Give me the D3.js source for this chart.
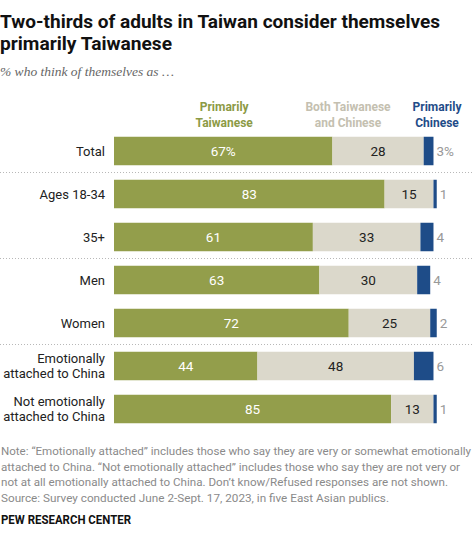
<!DOCTYPE html>
<html>
<head>
<meta charset="utf-8">
<script src="https://cdn.jsdelivr.net/npm/d3@7"></script>
<style>
  html, body { margin: 0; padding: 0; background: #fff; }
  svg { display: block; }
  text { font-family: Roboto, "Liberation Sans", sans-serif; }
</style>
</head>
<body>
<svg id="chart" width="474" height="538"></svg>
<script>
const categories = ["Total", "Ages 18-34", "35+", "Men", "Women", "Emotionally\nattached to China", "Not emotionally\nattached to China"];
const primarilyTaiwanese = [67, 83, 61, 63, 72, 44, 85];
const bothTaiwaneseChinese = [28, 15, 33, 30, 25, 48, 13];
const primarilyChinese = [3, 1, 4, 4, 2, 6, 1];
const seriesNames = ["Primarily\nTaiwanese", "Both Taiwanese\nand Chinese", "Primarily\nChinese"];
const separatorsAfter = ["Total", "35+", "Women"];

const colors = ["#939e4b", "#dbd8cb", "#1e4c88"];
const legendColors = ["#8c9a45", "#c4c0b0", "#1f4c88"];

const svg = d3.select("#chart");

// Title
const title = svg.append("g");
title.append("text").attr("x", 0).attr("y", 28)
  .attr("font-size", 18).attr("font-weight", 700).attr("fill", "#111")
  .attr("textLength", 440).attr("lengthAdjust", "spacingAndGlyphs")
  .text("Two-thirds of adults in Taiwan consider themselves");
title.append("text").attr("x", 0).attr("y", 50)
  .attr("font-size", 18).attr("font-weight", 700).attr("fill", "#111")
  .attr("textLength", 172).attr("lengthAdjust", "spacingAndGlyphs")
  .text("primarily Taiwanese");
svg.append("text").attr("x", 0).attr("y", 76)
  .attr("font-size", 13.5).attr("font-style", "italic").attr("fill", "#666")
  .style("font-family", "'Liberation Serif', 'DejaVu Serif', serif")
  .text("% who think of themselves as …");

const x = d3.scaleLinear().domain([0, 100]).range([114, 440]);
const y = d3.scalePoint().domain(categories).range([151, 409]);
const barH = 28.5;

const rows = categories.map((c, i) => {
  const vals = [primarilyTaiwanese[i], bothTaiwaneseChinese[i], primarilyChinese[i]];
  let cum = 0;
  const segs = vals.map((v, k) => { const s = {k, v, x0: cum, x1: cum + v}; cum += v; return s; });
  return {c, i, segs};
});

// Separators
svg.selectAll("line.sep").data(separatorsAfter).join("line")
  .attr("x1", 0).attr("x2", 474)
  .attr("y1", d => y(d) + y.step() / 2)
  .attr("y2", d => y(d) + y.step() / 2)
  .attr("stroke", "#b8b8b8").attr("stroke-width", 1).attr("stroke-dasharray", "1,2");

// Legend headers
const legendX = [
  (x(0) + x(primarilyTaiwanese[0])) / 2 + 1,
  348,
  437
];
seriesNames.forEach((name, k) => {
  const t = svg.append("text").attr("text-anchor", "middle")
    .attr("font-size", 12).attr("font-weight", 700).attr("fill", legendColors[k]);
  name.split("\n").forEach((line, j) => {
    t.append("tspan").attr("x", legendX[k]).attr("y", 110.5 + j * 16).text(line);
  });
});

// Category labels
const lab = svg.selectAll("text.cat").data(categories).join("text")
  .attr("class", "cat").attr("text-anchor", "end").attr("font-size", 13).attr("fill", "#222");
lab.each(function(d) {
  const lines = d.split("\n");
  const sel = d3.select(this);
  lines.forEach((line, j) => {
    sel.append("tspan").attr("x", 105)
      .attr("y", y(d) + 4.5 + (j - (lines.length - 1) / 2) * 15.5)
      .text(line);
  });
});

// Bars
const g = svg.selectAll("g.row").data(rows).join("g").attr("class", "row");
g.selectAll("rect").data(r => r.segs.map(s => ({...s, c: r.c}))).join("rect")
  .attr("x", s => x(s.x0))
  .attr("width", s => x(s.x1) - x(s.x0))
  .attr("y", s => y(s.c) - barH / 2)
  .attr("height", barH)
  .attr("fill", s => colors[s.k]);

// Value labels
g.selectAll("text.val").data(r => r.segs.map(s => ({...s, c: r.c, i: r.i}))).join("text")
  .attr("class", "val")
  .attr("font-size", 13.5)
  .attr("text-anchor", s => s.k === 2 ? "start" : "middle")
  .attr("x", s => s.k === 2 ? x(s.x1) + 3 : (x(s.x0) + x(s.x1)) / 2)
  .attr("y", s => y(s.c) + 5)
  .attr("fill", s => s.k === 0 ? "#fff" : s.k === 1 ? "#222" : "#999")
  .text(s => (s.i === 0 && s.k !== 1) ? s.v + "%" : s.v);

// Notes
const notes = [
  ["Note: “Emotionally attached” includes those who say they are very or somewhat emotionally", 470],
  ["attached to China. “Not emotionally attached” includes those who say they are not very or", 459],
  ["not at all emotionally attached to China. Don’t know/Refused responses are not shown.", 447],
  ["Source: Survey conducted June 2-Sept. 17, 2023, in five East Asian publics.", 388]
];
svg.selectAll("text.note").data(notes).join("text")
  .attr("class", "note").attr("x", 1).attr("y", (d, i) => 455 + i * 15.5)
  .attr("font-size", 11.4).attr("fill", "#8a8a8a")
  .attr("textLength", d => d[1]).attr("lengthAdjust", "spacingAndGlyphs")
  .text(d => d[0]);
svg.append("text").attr("x", 1).attr("y", 524)
  .attr("font-size", 12.5).attr("font-weight", 700).attr("fill", "#111")
  .attr("textLength", 130).attr("lengthAdjust", "spacingAndGlyphs")
  .text("PEW RESEARCH CENTER");
</script>
</body>
</html>
